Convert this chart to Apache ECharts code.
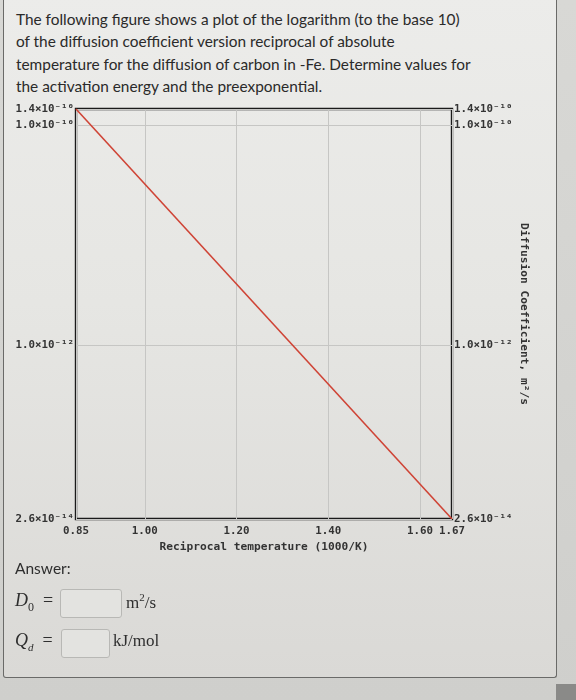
<!DOCTYPE html>
<html>
<head>
<meta charset="utf-8">
<script src="https://cdn.jsdelivr.net/npm/echarts@6/dist/echarts.min.js"></script>
<style>
  html, body { margin: 0; padding: 0; width: 576px; height: 700px; overflow: hidden; }
  body { background: linear-gradient(180deg, #d8d8d5 0%, #cfcfcc 100%); position: relative; font-family: Lato, 'Open Sans', sans-serif; }
  #card { position: absolute; left: 3px; top: -4px; width: 552px; height: 681px; border: 1px solid #6a6a68; border-top: none; border-radius: 0 0 3px 3px;
          background: linear-gradient(180deg, #ececea 0%, #e6e6e3 45%, #dad9d6 100%); }
  #corner { position: absolute; left: 556px; top: 684px; width: 20px; height: 16px; background: #8a8a88; }
  #q { position: absolute; left: 16px; top: 8px; white-space: nowrap; font-size: 15.4px; line-height: 22.3px; color: #2a2a2a; }
  #chart { position: absolute; left: 0; top: 0; width: 576px; height: 700px; }
  .ans { position: absolute; color: #2e2e2e; }
  .math { font-family: 'Liberation Serif', 'DejaVu Serif', serif; font-size: 18px; }
  .box { position: absolute; border: 1px solid #b8b8b5; border-radius: 3px; background: #e3e3e0; }
</style>
</head>
<body>
<div id="card"></div>
<div id="corner"></div>
<div id="q">The following figure shows a plot of the logarithm (to the base 10)<br>of the diffusion coefficient version reciprocal of absolute<br>temperature for the diffusion of carbon in -Fe. Determine values for<br>the activation energy and the preexponential.</div>
<div id="chart"></div>
<div class="ans" style="left:15px; top:559px; font-size:15.5px;">Answer:</div>
<div class="ans math" style="left:15px; top:590px;"><i>D</i><sub style="font-size:12px;">0</sub>&nbsp;&nbsp;=</div>
<div class="box" style="left:60px; top:589px; width:60px; height:27px;"></div>
<div class="ans math" style="left:126px; top:591px; font-size:17px;">m<sup style="font-size:11px;">2</sup>/s</div>
<div class="ans math" style="left:15px; top:630px;"><i>Q</i><sub style="font-size:11px;"><i>d</i></sub>&nbsp;&nbsp;=</div>
<div class="box" style="left:61px; top:629px; width:47px; height:27px;"></div>
<div class="ans math" style="left:113px; top:631px; font-size:17px;">kJ/mol</div>
<script>
// ---- data ----
const recipTemp = [0.85, 1.67];            // 1000/K
const diffCoef = [1.4e-10, 2.6e-14];       // m^2/s
const xTickValues = [0.85, 1.00, 1.20, 1.40, 1.60, 1.67];
const xTickLabels = ['0.85', '1.00', '1.20', '1.40', '1.60', '1.67'];
const yTickValues = [2.6e-14, 1.0e-12, 1.0e-10, 1.4e-10];
const yTickLabels = ['2.6×10⁻¹⁴', '1.0×10⁻¹²', '1.0×10⁻¹⁰', '1.4×10⁻¹⁰'];
const xAxisName = 'Reciprocal temperature (1000/K)';
const yAxisName = 'Diffusion Coefficient, m²/s';

// ---- build ----
const yLogTicks = yTickValues.map(v => Math.log10(v));
const seriesData = recipTemp.map((x, i) => [x, Math.log10(diffCoef[i])]);
function nearestLabel(v, vals, labels) {
  let best = 0, bd = Infinity;
  vals.forEach((t, i) => { const d = Math.abs(t - v); if (d < bd) { bd = d; best = i; } });
  return labels[best];
}
const monoFont = { fontFamily: 'DejaVu Sans Mono', fontWeight: 'bold', fontSize: 10.8, color: '#333' };
const nameFont = { fontFamily: 'DejaVu Sans Mono', fontWeight: 'bold', fontSize: 11.2, color: '#333' };
const gridLine = { show: true, lineStyle: { color: '#c6c6c4', width: 1 } };

function yAxisDef(position, withName) {
  return {
    type: 'value', position: position,
    min: Math.log10(yTickValues[0]), max: Math.log10(yTickValues[yTickValues.length - 1]),
    axisLine: { show: false }, axisTick: { show: false, customValues: yLogTicks },
    splitLine: position === 'left' ? gridLine : { show: false },
    axisLabel: Object.assign({ margin: 2, customValues: yLogTicks, hideOverlap: false, showMinLabel: true, showMaxLabel: true,
      formatter: v => nearestLabel(v, yLogTicks, yTickLabels) }, monoFont),
    name: withName ? yAxisName : '', nameLocation: 'middle', nameRotate: -90, nameGap: 66, nameMoveOverlap: false,
    nameTextStyle: nameFont
  };
}

const chart = echarts.init(document.getElementById('chart'), null, { renderer: 'canvas' });
chart.setOption({
  animation: false,
  backgroundColor: 'transparent',
  grid: { left: 76, right: 124, top: 109, bottom: 181, show: true, borderColor: '#1a1a1a', borderWidth: 2.4, backgroundColor: 'transparent', containLabel: false },
  xAxis: {
    type: 'value', min: xTickValues[0], max: xTickValues[xTickValues.length - 1],
    axisLine: { show: false }, axisTick: { show: false, customValues: xTickValues },
    splitLine: gridLine,
    axisLabel: Object.assign({ margin: 7, customValues: xTickValues, hideOverlap: false, showMinLabel: true, showMaxLabel: true,
      formatter: v => nearestLabel(v, xTickValues, xTickLabels) }, monoFont),
    name: xAxisName, nameLocation: 'middle', nameGap: 23,
    nameTextStyle: nameFont
  },
  yAxis: [yAxisDef('left', false), yAxisDef('right', true)],
  series: [{
    type: 'line', data: seriesData, yAxisIndex: 0, symbol: 'none', silent: true,
    lineStyle: { color: '#cf4436', width: 1.6 }
  }]
});
</script>
</body>
</html>
